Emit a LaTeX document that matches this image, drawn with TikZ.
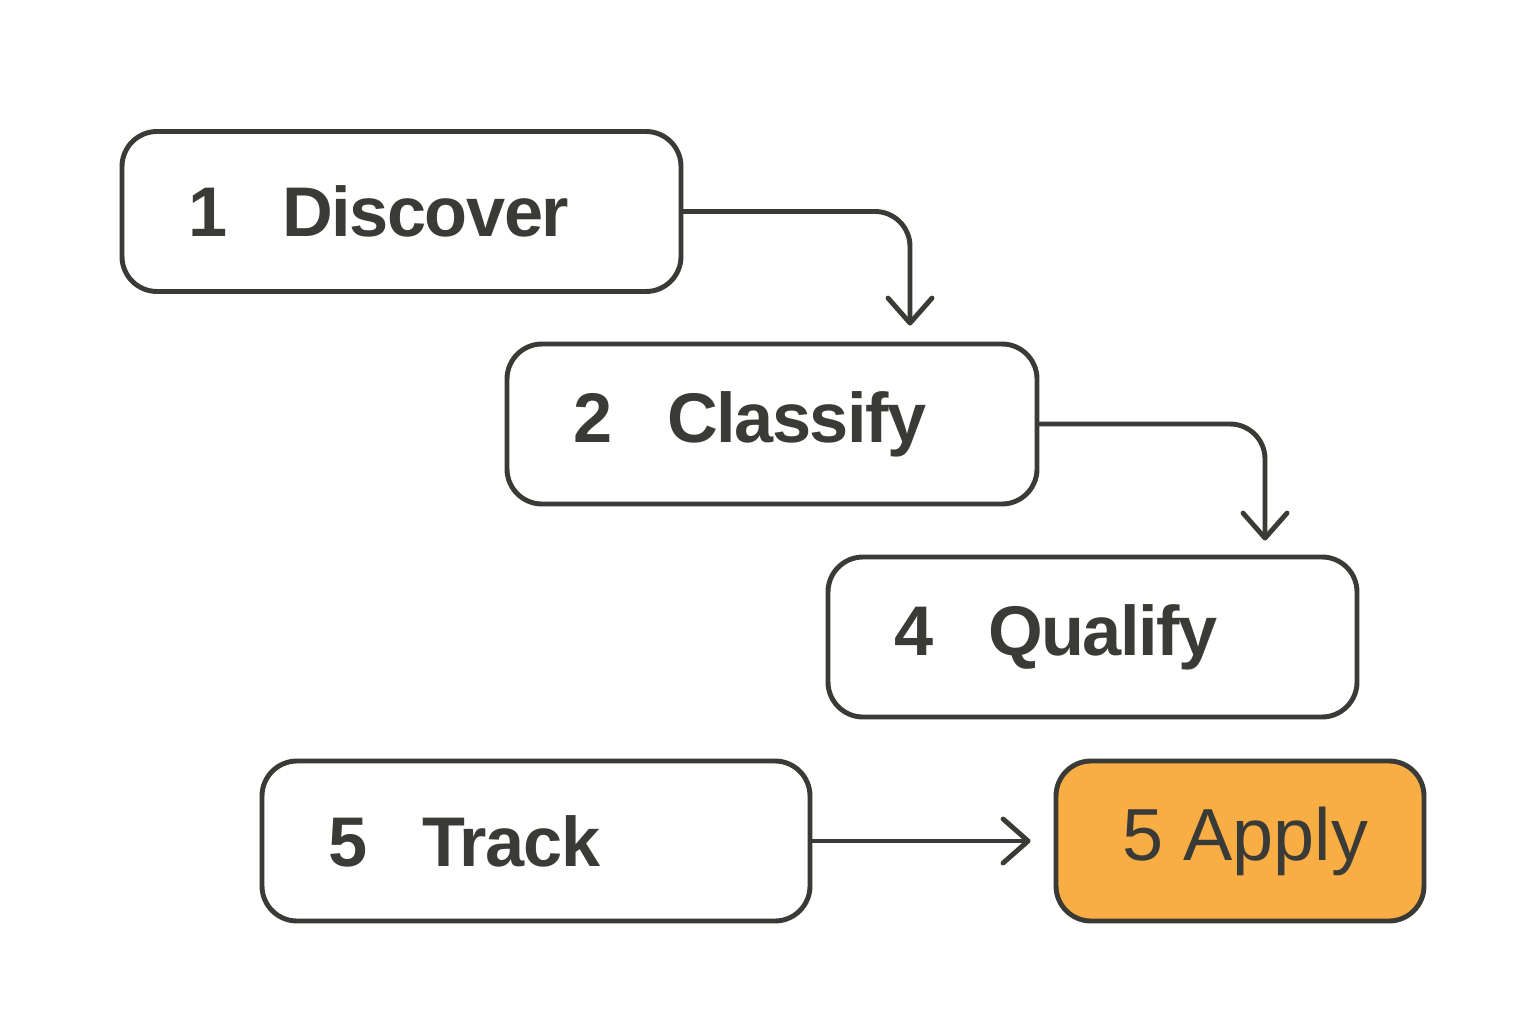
\documentclass[tikz,border=0pt]{standalone}
\usepackage{fontspec}
\setmainfont{Liberation Sans}
\usetikzlibrary{arrows.meta}
\definecolor{ink}{RGB}{58,59,54}
\definecolor{applyorange}{RGB}{249,174,69}
\newcommand{\stepname}[2]{\mbox{#1\hspace{0.55cm}#2}}
\tikzset{
  stepbox/.style={draw=ink, line width=1.4pt, rounded corners=0.35cm, text=ink,
    align=flush left, inner xsep=0.66cm, inner ysep=0pt, minimum height=1.6cm,
    font=\fontsize{20}{24}\selectfont\bfseries\addfontfeatures{LetterSpace=-2}},
  flow/.style={draw=ink, line width=1.4pt, rounded corners=0.35cm, line cap=round,
    -{Straight Barb[length=2.5mm,width=4.4mm,round]}}
}
\begin{document}
\begin{tikzpicture}
  \useasboundingbox (0,0) rectangle (15.36,10.24);
  \node[stepbox, text width=4.27cm] (disc) at (4.015,8.125) {\stepname{1}{Discover}};
  \node[stepbox, text width=3.98cm] (cls) at (7.72,6.00) {\stepname{2}{Classify}};
  \node[stepbox, text width=3.97cm] (qual) at (10.925,3.87) {\stepname{4}{Qualify}};
  \node[stepbox, text width=4.16cm] (track) at (5.36,1.83) {\stepname{5}{Track}};
  \node[stepbox, fill=applyorange, text width=2.36cm, font=\fontsize{21}{25}\selectfont]
    (apply) at (12.40,1.83) {\mbox{5 Apply}};
  % connectors
  \draw[flow] (disc.east) -| ([xshift=1.38cm,yshift=0.16cm]cls.north);
  \draw[flow] (cls.east) -| ([xshift=1.725cm,yshift=0.14cm]qual.north);
  \draw[flow, shorten >=0.23cm] (track.east) -- (apply.west);
\end{tikzpicture}
\end{document}
